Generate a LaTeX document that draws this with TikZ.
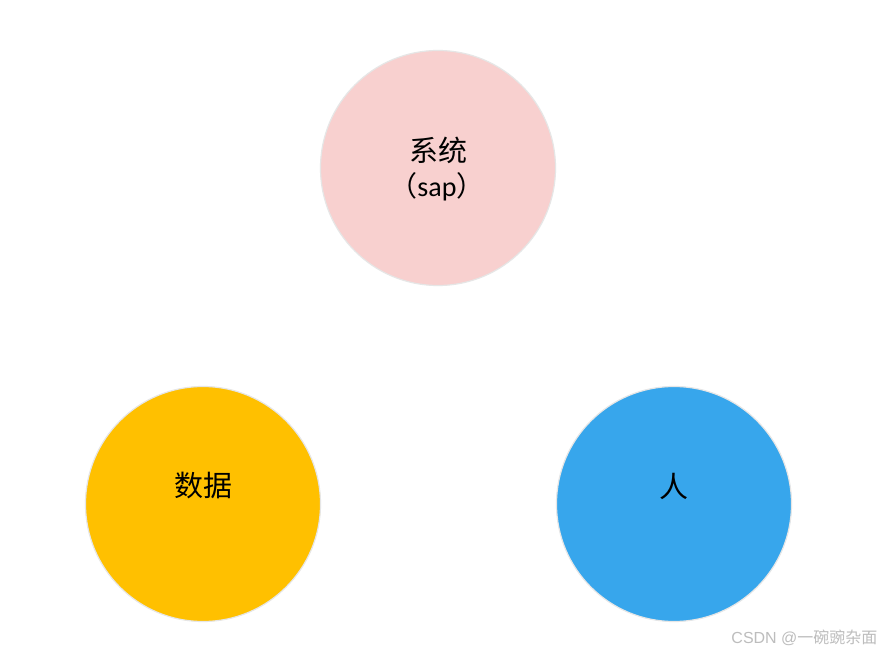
\documentclass[tikz,border=0pt]{standalone}
\usepackage{fontspec}
\setmainfont{Carlito}
\newfontfamily\cjk{Noto Sans CJK SC}
\newfontfamily\wmfont{Liberation Sans}
\definecolor{pinkc}{HTML}{F8D0CF}
\definecolor{orangec}{HTML}{FFC000}
\definecolor{bluec}{HTML}{37A6EC}
\definecolor{edgec}{HTML}{E6E6E6}
\definecolor{wmc}{HTML}{BDBDBD}
\begin{document}
\begin{tikzpicture}[x=1pt,y=1pt,
  ball/.style={circle,draw=edgec,line width=1.2pt,minimum size=235pt,inner sep=0pt},
  lbl/.style={font=\fontsize{29}{34}\selectfont\cjk,align=center,text=black}]
\useasboundingbox (0,0) rectangle (884,654);
\fill[white] (0,0) rectangle (884,654);
\node[ball,fill=pinkc] (sys) at (438,486) {};
\node[ball,fill=orangec] (data) at (203,150) {};
\node[ball,fill=bluec] (ren) at (674,150) {};
\node[lbl] (syst) at (438,504) {系统};
\node[font=\fontsize{28}{32}\selectfont,text=black] (sapt) at (437,467) {{\cjk（}sap{\cjk）}};
\node[lbl] (datat) at (203,168) {数据};
\node[lbl] (rent) at (674,168) {人};
\node[font=\wmfont\fontsize{16}{18}\selectfont,text=wmc,anchor=east] (wm) at (881,16) {CSDN @{\cjk 一碗豌杂面}};
\end{tikzpicture}
\end{document}
